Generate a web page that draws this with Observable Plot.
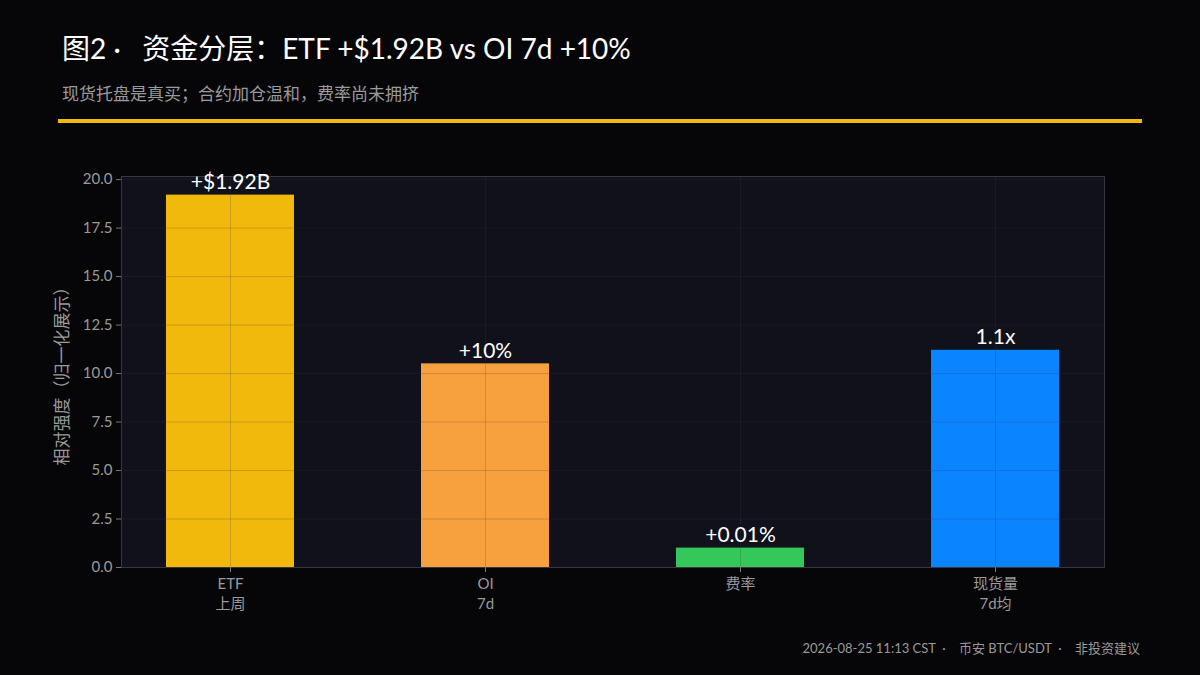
<!DOCTYPE html>
<html>
<head>
<meta charset="utf-8">
<script src="https://cdn.jsdelivr.net/npm/d3@7"></script>
<script src="https://cdn.jsdelivr.net/npm/@observablehq/plot@0.6"></script>
<style>
  html, body { margin: 0; padding: 0; background: #060608; }
  body { width: 1200px; height: 675px; position: relative; overflow: hidden;
         font-family: "Lato", "Noto Sans CJK SC", sans-serif; }
  #title { position: absolute; left: 62px; top: 27px; font-size: 28px; color: #ffffff; white-space: pre; }
  #subtitle { position: absolute; left: 62px; top: 80px; font-size: 17px; color: #9a9a9a; }
  #rule { position: absolute; left: 58px; top: 119px; width: 1084px; height: 4px; background: #f0b90b; }
  #chart { position: absolute; left: 0; top: 140px; }
  #footer { position: absolute; right: 60px; top: 638px; font-size: 13px; color: #9a9a9a; white-space: pre; }
</style>
</head>
<body>
<div id="title">图2 ·   资金分层：ETF +$1.92B vs OI 7d +10%</div>
<div id="subtitle">现货托盘是真买；合约加仓温和，费率尚未拥挤</div>
<div id="rule"></div>
<div id="chart"></div>
<div id="footer">2026-08-25 11:13 CST  ·    币安 BTC/USDT  ·    非投资建议</div>
<script>
const categories = ["ETF\n上周", "OI\n7d", "费率", "现货量\n7d均"];
const values = [19.2, 10.5, 1.0, 11.2];
const valueLabels = ["+$1.92B", "+10%", "+0.01%", "1.1x"];
const barColors = ["#f0b90b", "#f7a03e", "#34c759", "#0a84ff"];
const yTicks = [0, 2.5, 5, 7.5, 10, 12.5, 15, 17.5, 20];
const yLabel = "相对强度（归一化展示）";

const data = categories.map((c, i) => ({cat: c, value: values[i], label: valueLabels[i], color: barColors[i]}));

const chart = Plot.plot({
  width: 1200,
  height: 500,
  marginTop: 36,
  marginBottom: 73,
  marginLeft: 121,
  marginRight: 96,
  style: {background: "transparent", color: "#9a9a9a", fontSize: "15px",
          fontFamily: "Lato, 'Noto Sans CJK SC', sans-serif"},
  x: {domain: categories, paddingInner: 0.5, paddingOuter: 0.175, label: null},
  y: {domain: [0, 20.16], label: null},
  marks: [
    Plot.frame({fill: "#10111a", stroke: null}),
    Plot.barY(data, {x: "cat", y: "value", fill: "color"}),
    Plot.gridY(yTicks, {stroke: "#3a3a44", strokeOpacity: 0.22}),
    Plot.gridX(categories, {stroke: "#3a3a44", strokeOpacity: 0.22}),
    Plot.frame({stroke: "#363741", strokeWidth: 1}),
    Plot.axisY(yTicks, {tickFormat: d3.format(".1f"), tickSize: 5, tickPadding: 4, stroke: "#777",
      fontSize: 15, label: null}),
    Plot.text([yLabel], {frameAnchor: "left", dx: -59, rotate: -90, textAnchor: "middle", lineAnchor: "middle",
      fontSize: 17, fill: "#9a9a9a", text: d => d}),
    Plot.axisX({tickSize: 5, tickPadding: 3, stroke: "#777", fontSize: 15, lineHeight: 1.3}),
    Plot.text(data, {x: "cat", y: "value", text: "label", fill: "#ffffff", fontSize: 21,
      lineAnchor: "bottom", dy: -6})
  ]
});
document.getElementById("chart").appendChild(chart);
</script>
</body>
</html>
